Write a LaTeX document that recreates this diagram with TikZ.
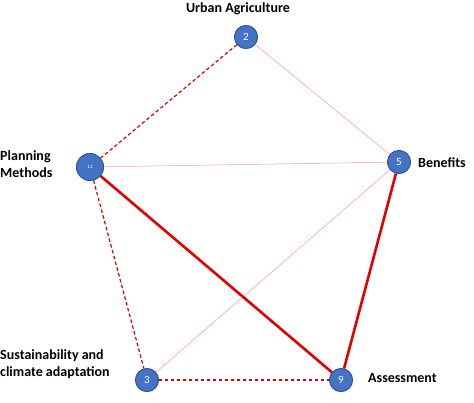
\documentclass[tikz,border=0pt]{standalone}
\usepackage{fontspec}
\setmainfont{Carlito}
\begin{document}
\begin{tikzpicture}[x=1pt,y=-1pt,
  vtx/.style={circle,fill=nodeblue,draw=nodeedge,line width=0.8pt,inner sep=0pt,minimum size=23pt,text=white,font=\fontsize{11}{11}\selectfont},
  bigvtx/.style={vtx,minimum size=27pt,font=\fontsize{5}{5}\selectfont},
  lbl/.style={font=\bfseries\fontsize{14}{17}\selectfont,text=black,inner sep=0pt},
  thinedge/.style={draw=red!40,line width=0.5pt},
  dashedge/.style={draw=red!85!black,line width=1.2pt,dash pattern=on 3.5pt off 2.5pt},
  thickedge/.style={draw=red!90!black,line width=2.6pt}]
\definecolor{nodeblue}{HTML}{4472C4}
\definecolor{nodeedge}{HTML}{2F528F}
\useasboundingbox[clip] (0,0) rectangle (474,402);
\node[vtx] (n2) at (246,37) {2};
\node[bigvtx] (n13) at (90,167) {13};
\node[vtx] (n5) at (399,162) {5};
\node[vtx] (n3) at (147,380) {3};
\node[vtx] (n9) at (341,380) {9};
\path[thinedge] (n2) -- (n5);
\path[thinedge] (n13) -- (n5);
\path[thinedge] (n5) -- (n3);
\path[dashedge] (n2) -- (n13);
\path[dashedge] (n13) -- (n3);
\path[dashedge] (n3) -- (n9);
\path[thickedge] (n13) -- (n9);
\path[thickedge] (n5) -- (n9);
\node[vtx] at (n2) {2};
\node[bigvtx] at (n13) {13};
\node[vtx] at (n5) {5};
\node[vtx] at (n3) {3};
\node[vtx] at (n9) {9};
\node[lbl,anchor=center] (t2) at (238,9) {Urban Agriculture};
\node[lbl,anchor=west,align=left] (t13) at (0,164) {Planning\\Methods};
\node[lbl,anchor=west] (t5) at (418,163) {Benefits};
\node[lbl,anchor=west,align=left] (t3) at (0,364) {Sustainability and\\climate adaptation};
\node[lbl,anchor=west] (t9) at (368,378) {Assessment};
\end{tikzpicture}
\end{document}
